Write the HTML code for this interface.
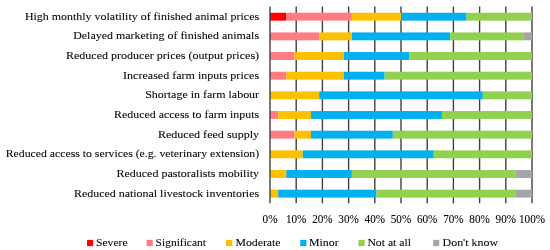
<!DOCTYPE html>
<html><head><meta charset="utf-8"><style>
html,body{margin:0;padding:0;background:#fff;}
svg{display:block;}
text{font-family:"Liberation Serif",serif;font-size:11.1px;fill:#000;stroke:#000;stroke-width:0.07px;}
text.ax{font-size:11.6px;}
</style></head><body>
<svg width="550" height="250" viewBox="0 0 550 250">
<line x1="296.20" y1="6.5" x2="296.20" y2="203.3" stroke="#404040" stroke-width="1.4"/>
<line x1="322.40" y1="6.5" x2="322.40" y2="203.3" stroke="#404040" stroke-width="1.4"/>
<line x1="348.60" y1="6.5" x2="348.60" y2="203.3" stroke="#404040" stroke-width="1.4"/>
<line x1="374.80" y1="6.5" x2="374.80" y2="203.3" stroke="#404040" stroke-width="1.4"/>
<line x1="401.00" y1="6.5" x2="401.00" y2="203.3" stroke="#404040" stroke-width="1.4"/>
<line x1="427.20" y1="6.5" x2="427.20" y2="203.3" stroke="#404040" stroke-width="1.4"/>
<line x1="453.40" y1="6.5" x2="453.40" y2="203.3" stroke="#404040" stroke-width="1.4"/>
<line x1="479.60" y1="6.5" x2="479.60" y2="203.3" stroke="#404040" stroke-width="1.4"/>
<line x1="505.80" y1="6.5" x2="505.80" y2="203.3" stroke="#404040" stroke-width="1.4"/>
<line x1="532.00" y1="6.5" x2="532.00" y2="203.3" stroke="#404040" stroke-width="1.4"/>
<rect x="270.00" y="12.75" width="16.38" height="7.9" fill="#FF0000"/>
<rect x="286.38" y="12.75" width="65.50" height="7.9" fill="#FF7C80"/>
<rect x="351.88" y="12.75" width="49.12" height="7.9" fill="#FFC000"/>
<rect x="401.00" y="12.75" width="65.50" height="7.9" fill="#00B0F0"/>
<rect x="466.50" y="12.75" width="65.50" height="7.9" fill="#92D050"/>
<rect x="270.00" y="32.41" width="49.12" height="7.9" fill="#FF7C80"/>
<rect x="319.12" y="32.41" width="32.75" height="7.9" fill="#FFC000"/>
<rect x="351.88" y="32.41" width="98.25" height="7.9" fill="#00B0F0"/>
<rect x="450.12" y="32.41" width="73.69" height="7.9" fill="#92D050"/>
<rect x="523.81" y="32.41" width="8.19" height="7.9" fill="#A5A5A5"/>
<rect x="270.00" y="52.07" width="24.56" height="7.9" fill="#FF7C80"/>
<rect x="294.56" y="52.07" width="49.12" height="7.9" fill="#FFC000"/>
<rect x="343.69" y="52.07" width="65.50" height="7.9" fill="#00B0F0"/>
<rect x="409.19" y="52.07" width="122.81" height="7.9" fill="#92D050"/>
<rect x="270.00" y="71.73" width="16.38" height="7.9" fill="#FF7C80"/>
<rect x="286.38" y="71.73" width="57.31" height="7.9" fill="#FFC000"/>
<rect x="343.69" y="71.73" width="40.94" height="7.9" fill="#00B0F0"/>
<rect x="384.62" y="71.73" width="147.38" height="7.9" fill="#92D050"/>
<rect x="270.00" y="91.39" width="49.12" height="7.9" fill="#FFC000"/>
<rect x="319.12" y="91.39" width="163.75" height="7.9" fill="#00B0F0"/>
<rect x="482.88" y="91.39" width="49.12" height="7.9" fill="#92D050"/>
<rect x="270.00" y="111.05" width="8.19" height="7.9" fill="#FF7C80"/>
<rect x="278.19" y="111.05" width="32.75" height="7.9" fill="#FFC000"/>
<rect x="310.94" y="111.05" width="131.00" height="7.9" fill="#00B0F0"/>
<rect x="441.94" y="111.05" width="90.06" height="7.9" fill="#92D050"/>
<rect x="270.00" y="130.71" width="24.56" height="7.9" fill="#FF7C80"/>
<rect x="294.56" y="130.71" width="16.38" height="7.9" fill="#FFC000"/>
<rect x="310.94" y="130.71" width="81.88" height="7.9" fill="#00B0F0"/>
<rect x="392.81" y="130.71" width="139.19" height="7.9" fill="#92D050"/>
<rect x="270.00" y="150.37" width="32.75" height="7.9" fill="#FFC000"/>
<rect x="302.75" y="150.37" width="131.00" height="7.9" fill="#00B0F0"/>
<rect x="433.75" y="150.37" width="98.25" height="7.9" fill="#92D050"/>
<rect x="270.00" y="170.03" width="16.38" height="7.9" fill="#FFC000"/>
<rect x="286.38" y="170.03" width="65.50" height="7.9" fill="#00B0F0"/>
<rect x="351.88" y="170.03" width="163.75" height="7.9" fill="#92D050"/>
<rect x="515.62" y="170.03" width="16.38" height="7.9" fill="#A5A5A5"/>
<rect x="270.00" y="189.69" width="8.19" height="7.9" fill="#FFC000"/>
<rect x="278.19" y="189.69" width="98.25" height="7.9" fill="#00B0F0"/>
<rect x="376.44" y="189.69" width="139.19" height="7.9" fill="#92D050"/>
<rect x="515.62" y="189.69" width="16.38" height="7.9" fill="#A5A5A5"/>
<line x1="270.00" y1="6.5" x2="270.00" y2="203.3" stroke="#404040" stroke-width="1.4"/>
<text x="24.90" y="19.60" textLength="234.20" lengthAdjust="spacingAndGlyphs">High monthly volatility of finished animal prices</text>
<text x="73.20" y="39.26" textLength="185.90" lengthAdjust="spacingAndGlyphs">Delayed marketing of finished animals</text>
<text x="65.90" y="58.92" textLength="193.20" lengthAdjust="spacingAndGlyphs">Reduced producer prices (output prices)</text>
<text x="123.10" y="78.58" textLength="136.00" lengthAdjust="spacingAndGlyphs">Increased farm inputs prices</text>
<text x="145.20" y="98.24" textLength="113.90" lengthAdjust="spacingAndGlyphs">Shortage in farm labour</text>
<text x="114.00" y="117.90" textLength="145.10" lengthAdjust="spacingAndGlyphs">Reduced access to farm inputs</text>
<text x="157.90" y="137.56" textLength="101.20" lengthAdjust="spacingAndGlyphs">Reduced feed supply</text>
<text x="5.70" y="157.22" textLength="253.40" lengthAdjust="spacingAndGlyphs">Reduced access to services (e.g. veterinary extension)</text>
<text x="116.40" y="176.88" textLength="142.70" lengthAdjust="spacingAndGlyphs">Reduced pastoralists mobility</text>
<text x="74.00" y="196.54" textLength="185.10" lengthAdjust="spacingAndGlyphs">Reduced national livestock inventories</text>
<text x="262.55" y="222.5" textLength="14.89" lengthAdjust="spacingAndGlyphs" class="ax">0%</text>
<text x="285.96" y="222.5" textLength="20.47" lengthAdjust="spacingAndGlyphs" class="ax">10%</text>
<text x="312.16" y="222.5" textLength="20.47" lengthAdjust="spacingAndGlyphs" class="ax">20%</text>
<text x="338.36" y="222.5" textLength="20.47" lengthAdjust="spacingAndGlyphs" class="ax">30%</text>
<text x="364.56" y="222.5" textLength="20.47" lengthAdjust="spacingAndGlyphs" class="ax">40%</text>
<text x="390.76" y="222.5" textLength="20.47" lengthAdjust="spacingAndGlyphs" class="ax">50%</text>
<text x="416.96" y="222.5" textLength="20.47" lengthAdjust="spacingAndGlyphs" class="ax">60%</text>
<text x="443.16" y="222.5" textLength="20.47" lengthAdjust="spacingAndGlyphs" class="ax">70%</text>
<text x="469.36" y="222.5" textLength="20.47" lengthAdjust="spacingAndGlyphs" class="ax">80%</text>
<text x="495.56" y="222.5" textLength="20.47" lengthAdjust="spacingAndGlyphs" class="ax">90%</text>
<text x="518.97" y="222.5" textLength="26.06" lengthAdjust="spacingAndGlyphs" class="ax">100%</text>
<rect x="87.00" y="239.9" width="6.2" height="6.2" fill="#FF0000"/>
<text x="96.00" y="246" textLength="31.60" lengthAdjust="spacingAndGlyphs">Severe</text>
<rect x="146.60" y="239.9" width="6.2" height="6.2" fill="#FF7C80"/>
<text x="155.60" y="246" textLength="50.40" lengthAdjust="spacingAndGlyphs">Significant</text>
<rect x="226.00" y="239.9" width="6.2" height="6.2" fill="#FFC000"/>
<text x="235.40" y="246" textLength="45.20" lengthAdjust="spacingAndGlyphs">Moderate</text>
<rect x="300.20" y="239.9" width="6.2" height="6.2" fill="#00B0F0"/>
<text x="309.00" y="246" textLength="29.60" lengthAdjust="spacingAndGlyphs">Minor</text>
<rect x="358.50" y="239.9" width="6.2" height="6.2" fill="#92D050"/>
<text x="367.40" y="246" textLength="43.60" lengthAdjust="spacingAndGlyphs">Not at all</text>
<rect x="433.10" y="239.9" width="6.2" height="6.2" fill="#A5A5A5"/>
<text x="442.60" y="246" textLength="55.40" lengthAdjust="spacingAndGlyphs">Don't know</text>
</svg>
</body></html>
